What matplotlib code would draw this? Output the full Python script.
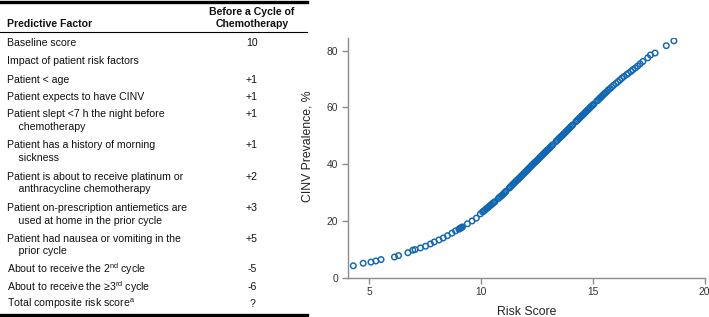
import matplotlib
matplotlib.use("Agg")
import matplotlib.pyplot as plt
from matplotlib.lines import Line2D

plt.rcParams['font.family'] = ['Liberation Sans', 'DejaVu Sans']
plt.rcParams['mathtext.fontset'] = 'custom'
plt.rcParams['mathtext.rm'] = 'Liberation Sans'

# ---------------- table data ----------------
header_factor = "Predictive Factor"
header_value = "Before a Cycle of\nChemotherapy"
factors = [
    "Baseline score",
    "Impact of patient risk factors",
    "Patient < age",
    "Patient expects to have CINV",
    "Patient slept <7 h the night before\n    chemotherapy",
    "Patient has a history of morning\n    sickness",
    "Patient is about to receive platinum or\n    anthracycline chemotherapy",
    "Patient on-prescription antiemetics are\n    used at home in the prior cycle",
    "Patient had nausea or vomiting in the\n    prior cycle",
    r"About to receive the 2$^{\rm nd}$ cycle",
    r"About to receive the ≥3$^{\rm rd}$ cycle",
    r"Total composite risk score$^{\rm a}$",
]
factor_values = ["10", "", "+1", "+1", "+1", "+1", "+2", "+3", "+5", "-5", "-6", "?"]

# ---------------- scatter data ----------------
risk_score = [
    4.30, 4.74, 5.09, 5.31, 5.54, 6.14, 6.32, 6.74, 6.96, 7.06, 7.30, 7.53, 7.75, 7.92,
    8.13, 8.32, 8.51, 8.71, 8.87, 9.02, 9.06, 9.10, 9.14, 9.18, 9.40, 9.61, 9.80, 9.98,
    10.08, 10.13, 10.18, 10.23, 10.28, 10.33, 10.38, 10.43, 10.48, 10.53, 10.58, 10.63,
    10.78, 10.83, 10.88, 10.93, 10.98, 11.03, 11.08, 11.13,
    11.27, 11.32, 11.37, 11.42, 11.47, 11.52, 11.57, 11.62, 11.67, 11.72, 11.77, 11.82,
    11.87, 11.92, 11.97, 12.02, 12.07, 12.12, 12.17, 12.22, 12.27, 12.32, 12.37, 12.42,
    12.47, 12.52, 12.57, 12.62, 12.67, 12.72, 12.77, 12.82, 12.87, 12.92, 12.97, 13.02,
    13.07, 13.12, 13.17, 13.22,
    13.36, 13.41, 13.46, 13.51, 13.56, 13.61, 13.66, 13.71, 13.76, 13.81, 13.86, 13.91,
    13.96, 14.01, 14.06, 14.11,
    14.25, 14.30, 14.35, 14.40, 14.45, 14.50, 14.55, 14.60, 14.65, 14.70, 14.75, 14.80,
    14.85, 14.90, 14.95, 15.00, 15.05,
    15.19, 15.24, 15.29, 15.34, 15.39, 15.44, 15.50, 15.56, 15.63, 15.70, 15.78, 15.85,
    15.93, 16.04, 16.13, 16.22, 16.30, 16.39, 16.52, 16.60, 16.71, 16.79, 16.90, 17.01,
    17.12, 17.24, 17.46, 17.58, 17.79, 18.29, 18.63,
]
cinv_prevalence = [
    4.2, 5.1, 5.5, 5.9, 6.4, 7.3, 7.8, 8.8, 9.7, 9.9, 10.5, 11.1, 11.9, 12.6,
    13.3, 14.0, 14.8, 15.7, 16.5, 17.1, 17.3, 17.5, 17.7, 17.9, 19.0, 20.0, 21.0, 22.5,
    23.2, 23.5, 23.8, 24.2, 24.5, 24.8, 25.2, 25.5, 25.8, 26.2, 26.5, 26.8,
    27.9, 28.3, 28.6, 28.9, 29.3, 29.7, 30.1, 30.5,
    31.6, 32.0, 32.4, 32.8, 33.2, 33.6, 34.0, 34.4, 34.7, 35.1, 35.5, 35.9,
    36.3, 36.7, 37.1, 37.5, 37.9, 38.3, 38.7, 39.1, 39.5, 39.9, 40.3, 40.7,
    41.0, 41.4, 41.8, 42.2, 42.6, 43.0, 43.4, 43.8, 44.2, 44.6, 45.0, 45.3,
    45.7, 46.1, 46.5, 46.9,
    48.0, 48.4, 48.8, 49.2, 49.6, 49.9, 50.3, 50.7, 51.1, 51.5, 51.9, 52.3,
    52.7, 53.1, 53.5, 53.9,
    55.0, 55.4, 55.8, 56.2, 56.6, 57.0, 57.3, 57.7, 58.1, 58.5, 58.9, 59.3,
    59.7, 60.1, 60.5, 60.8, 61.2,
    62.3, 62.6, 63.1, 63.4, 63.8, 64.2, 64.7, 65.1, 65.6, 66.2, 66.7, 67.2,
    67.8, 68.5, 69.1, 69.7, 70.3, 70.9, 71.6, 72.1, 72.7, 73.3, 73.9, 74.6,
    75.4, 76.2, 77.5, 78.5, 79.2, 81.8, 83.5,
]
x_ticks = [5, 10, 15, 20]
y_ticks = [0, 20, 40, 60, 80]

W, H = 709, 317
fig = plt.figure(figsize=(W / 100, H / 100), dpi=100)


def fy(py):
    return 1 - py / H


def fx(px):
    return px / W


# table rules
fig.add_artist(Line2D([fx(0), fx(307)], [fy(1.8), fy(1.8)], color='black', lw=2.4))
fig.add_artist(Line2D([fx(0), fx(307)], [fy(32), fy(32)], color='black', lw=0.8))
fig.add_artist(Line2D([fx(0), fx(307)], [fy(315), fy(315)], color='black', lw=2.4))

fs = 7.6
txt_color = '#111111'
fig.text(fx(7), fy(24), header_factor, fontsize=fs, fontweight='bold', va='center',
         ha='left', color=txt_color)
fig.text(fx(252), fy(18), header_value, fontsize=fs, fontweight='bold', va='center',
         ha='center', linespacing=1.15, color=txt_color)

row_y = [42.7, 61, 80, 96.7, 120.6, 151.5, 183, 214.5, 245.2, 269, 286.7, 304]
for label, val, y in zip(factors, factor_values, row_y):
    fig.text(fx(7), fy(y), label, fontsize=fs, va='center', ha='left', linespacing=1.3,
             color=txt_color)
    if val:
        vy = y - 6.3 if '\n' in label else y
        fig.text(fx(252), fy(vy), val, fontsize=fs, va='center', ha='center',
                 color=txt_color)

# scatter chart
ax = fig.add_axes([fx(347.7), 39.3 / H, fx(705) - fx(347.7), (277.7 - 38) / H])
ax.scatter(risk_score, cinv_prevalence, s=16, facecolors='none', edgecolors='#1167b1',
           linewidths=1.05, zorder=3)
ax.set_xlim(4.05, 20.02)
ax.set_ylim(0, 84.5)
ax.set_xticks(x_ticks)
ax.set_yticks(y_ticks)
for side in ['top', 'right']:
    ax.spines[side].set_visible(False)
for side in ['left', 'bottom']:
    ax.spines[side].set_color('#8c8c8c')
    ax.spines[side].set_linewidth(1.0)
ax.tick_params(axis='both', colors='#8c8c8c', length=4, width=1.0, labelsize=7.4,
               labelcolor='#333333', pad=3)
ax.set_xlabel('Risk Score', fontsize=8.8, color='#222222', labelpad=6)
ax.set_ylabel('CINV Prevalence, %', fontsize=8.8, color='#222222')
ax.yaxis.set_label_coords(-0.095, 0.55)
ax.patch.set_alpha(0)

fig.savefig('out.png', dpi=100)
